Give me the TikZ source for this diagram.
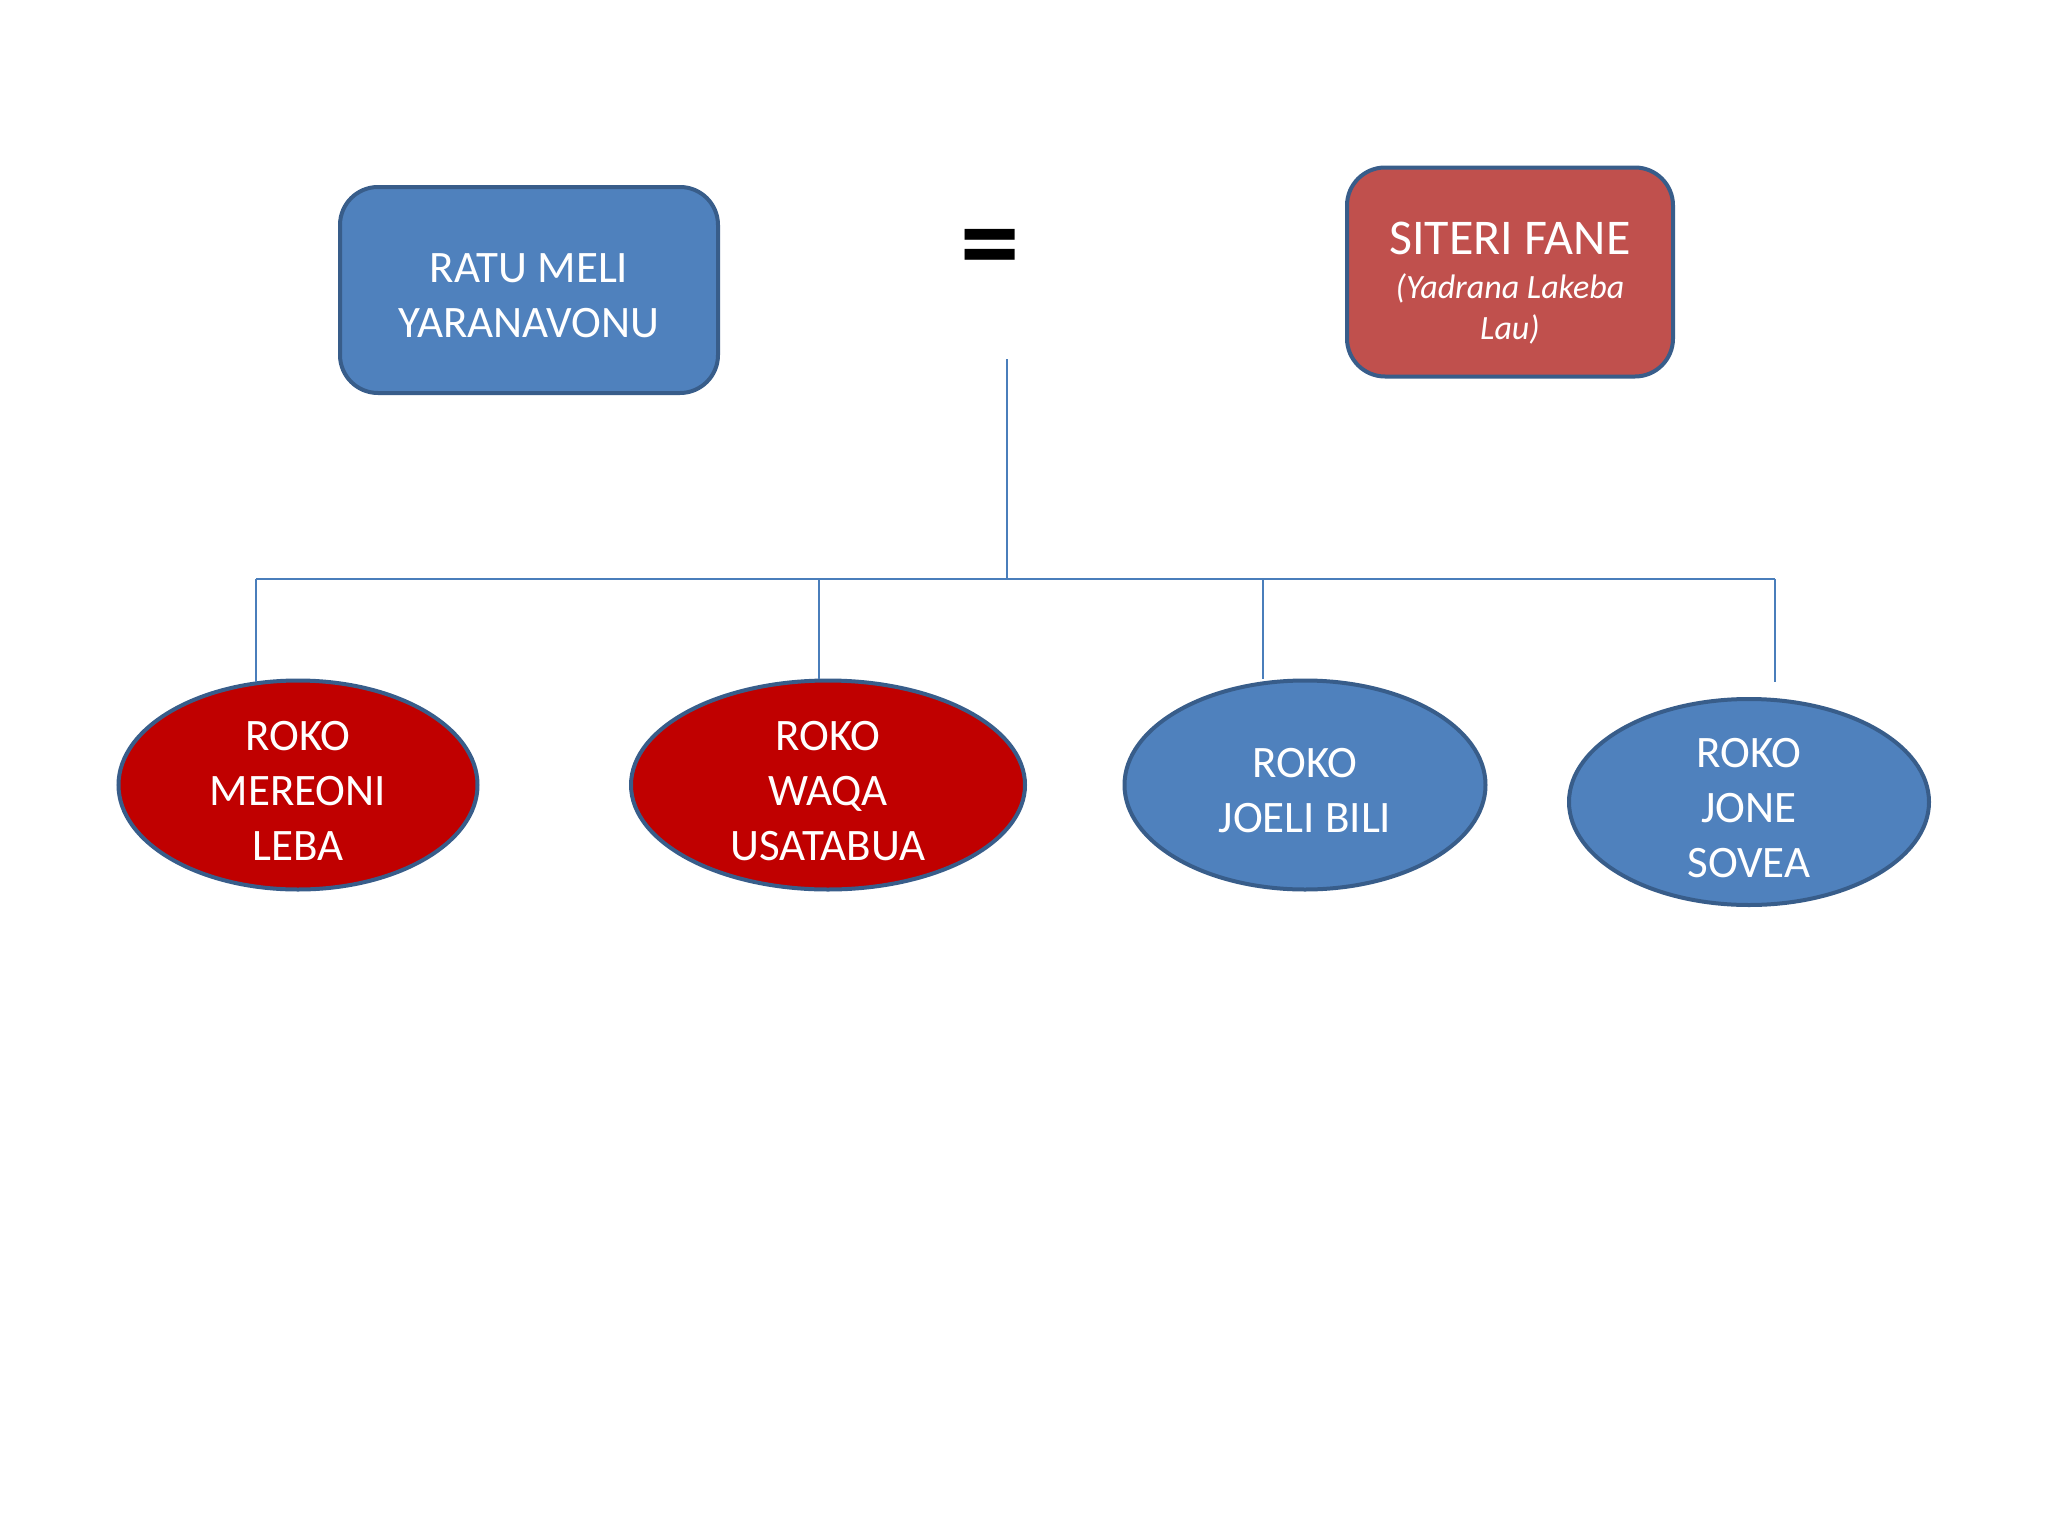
\documentclass[tikz,border=0pt]{standalone}
\usepackage{fontspec}
\setmainfont{Carlito}
\usetikzlibrary{shapes.geometric}
\definecolor{boxblue}{HTML}{4F81BD}
\definecolor{edgeblue}{HTML}{385D8A}
\definecolor{boxred}{HTML}{C0504D}
\definecolor{darkred}{HTML}{C00000}
\definecolor{linkblue}{HTML}{4A7EBB}
\newcommand{\topstrut}{\rule{0pt}{41pt}}
\tikzset{
  parentbox/.style={draw=edgeblue, line width=4pt, rounded corners=38pt, text=white, align=center, inner sep=0pt},
  child/.style={ellipse, draw=edgeblue, line width=4pt, text=white, align=center, inner xsep=0pt, inner ysep=-30pt,
     font=\fontsize{45}{55}\selectfont},
  link/.style={draw=linkblue, line width=1.6pt}
}
\begin{document}
\begin{tikzpicture}[x=1pt,y=-1pt]
\useasboundingbox (0,0) rectangle (2048,1536);
\fill[white] (0,0) rectangle (2048,1536);

\node[parentbox, fill=boxblue, minimum width=378pt, minimum height=206pt,
      font=\fontsize{45}{55}\selectfont] (ratu) at (529,290) {\topstrut RATU MELI\\YARANAVONU};
\node[parentbox, fill=boxred, minimum width=326pt, minimum height=209pt,
      font=\fontsize{34}{41}\selectfont] (siteri) at (1510,272)
  {{\fontsize{50}{56}\selectfont\rule{0pt}{55pt}SITERI FANE}\\[3pt]{\itshape (Yadrana Lakeba}\\{\itshape Lau)}};

\node[font=\fontsize{119}{119}\selectfont\bfseries, inner sep=0pt] (eq) at (990,256) {=};

\node[child, fill=darkred, minimum width=359pt, minimum height=209pt] (e1) at (298,785) {\topstrut ROKO\\MEREONI\\LEBA};
\node[child, fill=darkred, minimum width=394pt, minimum height=209pt] (e2) at (828,785) {\topstrut ROKO\\WAQA\\USATABUA};
\node[child, fill=boxblue, minimum width=361pt, minimum height=209pt] (e3) at (1305,785) {\topstrut ROKO\\JOELI BILI};
\node[child, fill=boxblue, minimum width=360pt, minimum height=206pt] (e4) at (1749,802) {\topstrut ROKO\\JONE\\SOVEA};

\coordinate (top) at (1007,359);
\coordinate (junc) at (1007,579);
\coordinate (b1) at (256,579);
\coordinate (b2) at (819,579);
\coordinate (b3) at (1263,579);
\coordinate (b4) at (1775,579);
\coordinate (end1) at (256,682);
\coordinate (end4) at (1775,682);

\draw[link] (top) -- (junc);
\draw[link] (b1) -- (b4);
\draw[link] (b1) -- (end1);
\draw[link] (b2) -- (b2 |- e2.north);
\draw[link] (b3) -- (b3 |- e3.north);
\draw[link] (b4) -- (end4);
\end{tikzpicture}
\end{document}
